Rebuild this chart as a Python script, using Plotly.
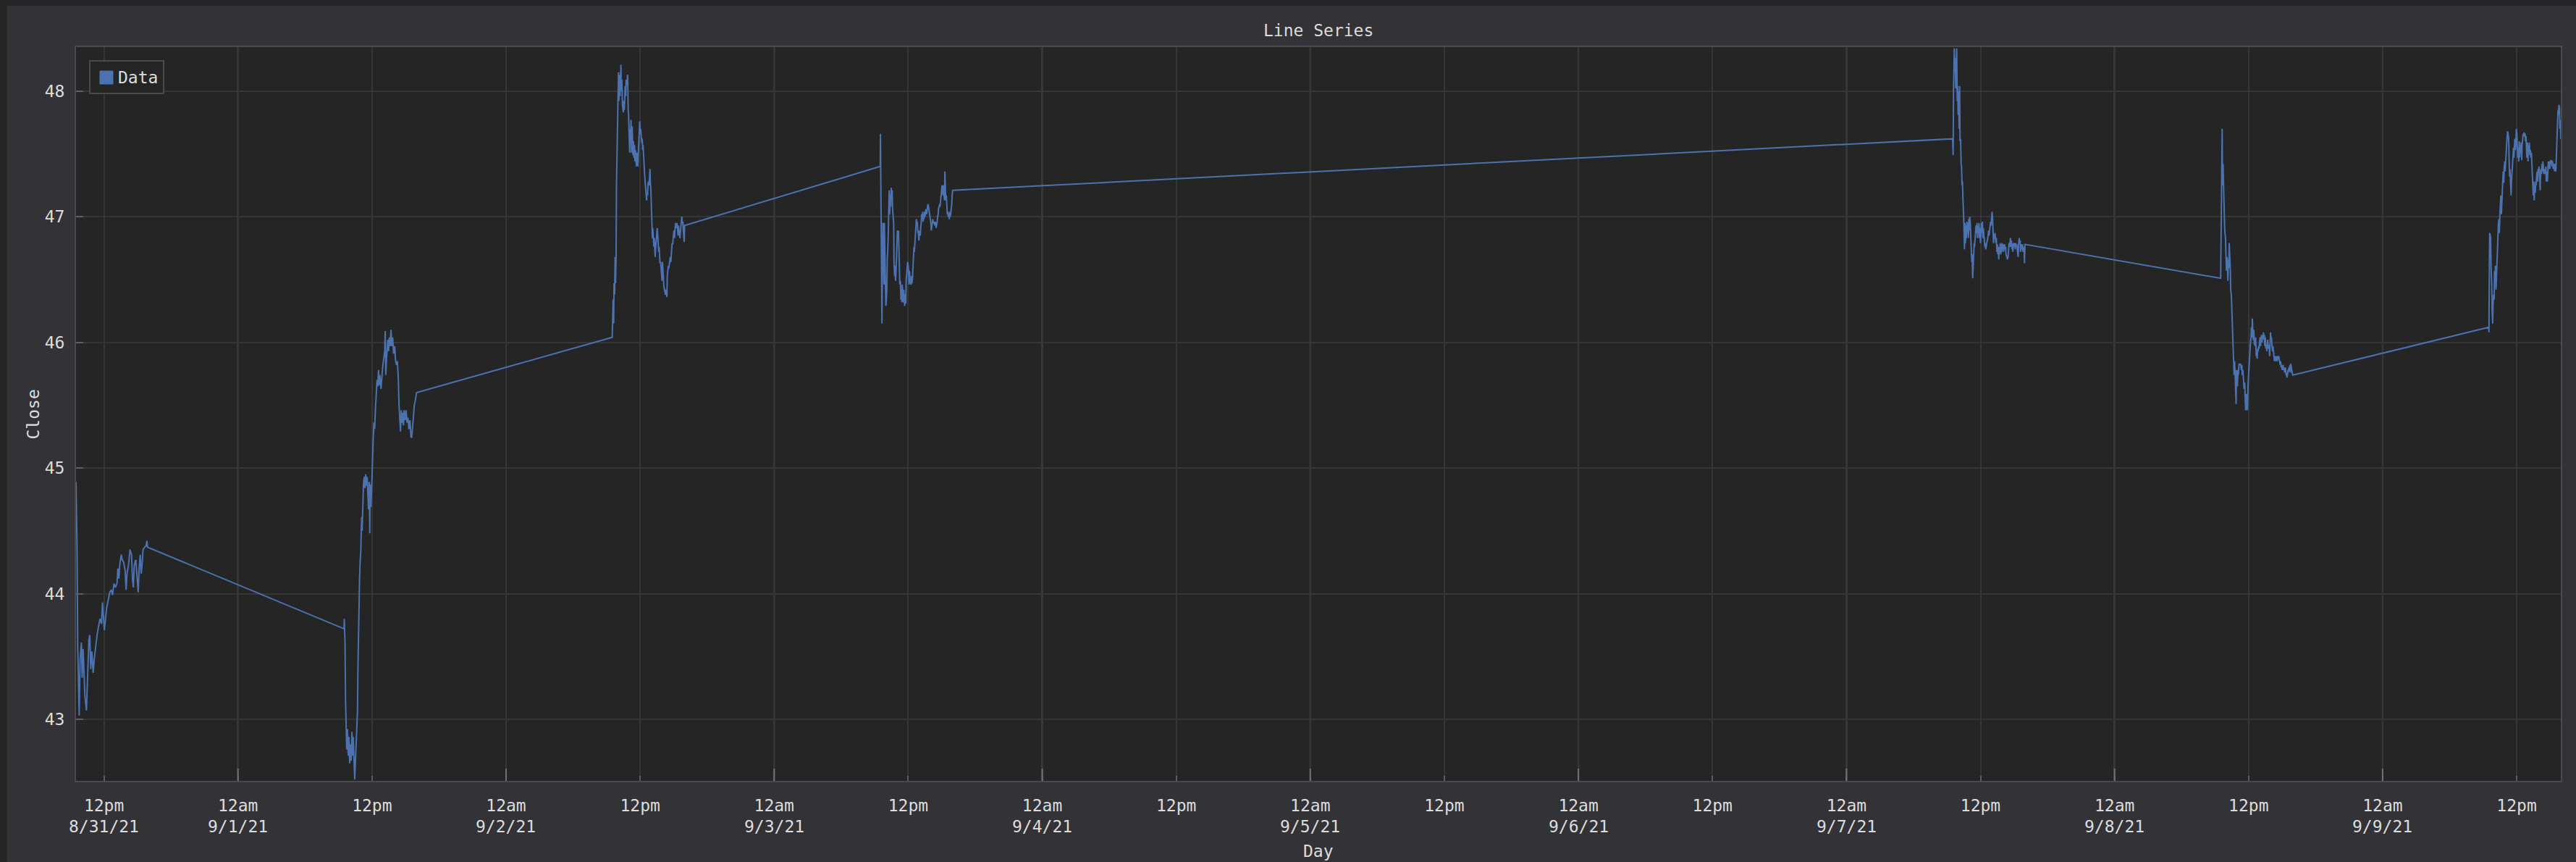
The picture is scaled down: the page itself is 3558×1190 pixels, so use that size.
import pandas as pd
import plotly.graph_objects as go

# ---------------- data ----------------
chart_title = "Line Series"
series_name = "Data"
x_title = "Day"
y_title = "Close"

session_dates = ["2021-08-31", "2021-09-01", "2021-09-02", "2021-09-03",
                 "2021-09-07", "2021-09-08", "2021-09-09"]
session_open = "09:30"

# minutes after the open, and close price
minutes_0831 = [0,4,6,9,14,17,22,29,33,38, 43,48,56,61,69,74,79,85,92,98,
                105,113,121,129,137,142,147,152,160,165, 173,181,189,196,204,212,220,225,230,235,
                243,248,256,264,269,274,282,290,298,303, 308,313,321,329,334,339,345,350,355,360,
                368,376,381,384]
close_0831 = [44.89,44.61,44.31,43.59,43.29,43.03,43.48,43.61,43.33,43.56,
              43.37,43.18,43.07,43.29,43.63,43.67,43.40,43.54,43.37,43.48,
              43.59,43.67,43.74,43.80,43.76,43.93,43.82,43.71,43.82,43.89,
              43.95,44.01,44.03,43.99,44.08,44.05,44.08,44.20,44.12,44.23,
              44.31,44.27,44.25,44.18,44.03,44.16,44.23,44.35,44.31,44.12,
              44.05,44.23,44.27,44.12,44.01,44.20,44.31,44.16,44.23,44.35,
              44.37,44.38,44.42,44.37]

minutes_0901 = [0,1,5,8,10,14,18,22,26,30, 34,38,42,46,49,53,57,61,65,69,
                72,74,77,79,83,86,90,92,95,97, 100,104,108,112,116,120,124,127,131,135,
                138,140,144,148,152,156,160,164,168,172, 177,181,185,189,192,198,203,208,213,218,
                221,224,228,231,235,239,243,247,252,256, 261,266,272,276,281,286,291,295,299,303,
                307,311,315,319,322,328,333,338,343,348, 354,359,363,367,372,377,382,389]
close_0901 = [43.72,43.80,43.61,43.14,42.90,42.76,42.92,42.71,42.86,42.65,
              42.80,42.67,42.90,42.71,42.86,42.61,42.52,42.67,42.80,42.92,
              43.07,43.37,43.67,44.01,44.12,44.25,44.35,44.50,44.61,44.50,
              44.74,44.87,44.93,44.84,44.95,44.86,44.93,44.80,44.67,44.89,
              44.48,44.87,44.69,44.84,45.08,45.21,45.36,45.31,45.46,45.55,
              45.70,45.65,45.78,45.66,45.74,45.63,45.74,45.82,45.87,45.93,
              46.09,45.74,45.87,45.97,46.02,45.93,46.04,45.97,46.10,45.97,
              46.04,45.91,45.97,45.86,45.82,45.85,45.72,45.50,45.36,45.29,
              45.46,45.36,45.44,45.34,45.46,45.38,45.46,45.36,45.40,45.31,
              45.38,45.25,45.24,45.34,45.40,45.50,45.53,45.60]

minutes_0902 = [0,3,5,8,10,13,16,18,21,23, 26,29,31,34,36,39,42,44,47,49,
                52,55,57,60,62,65,68,70,73,75, 78,81,83,86,88,91,94,96,99,101,
                104,107,109,112,114,117,120,122,125,127, 130,133,135,138,140,143,146,148,151,153,
                156,159,161,164,166,169,172,174,177,179, 182,185,187,190,192,195,198,200,203,205,
                208,211,213,216,218,221,224,226,229,231, 234,237,239,242,244,247,250,252,255,257,
                260,263,265,268,270,274,278,281,283,286, 289,291,294,296,299,302,304,307,309,312,
                315,317,320,322,325,328,330,333,335,338, 341,343,346,348,351,354,356,359,361,364,
                367,369,372,374,377,380,382,385,387,389]
close_0902 = [46.04,46.19,46.34,46.15,46.47,46.38,46.68,46.47,46.68,47.25,
              47.53,47.55,47.91,48.15,47.92,48.13,47.96,48.19,48.21,48.00,
              48.09,47.89,47.85,47.83,47.92,47.85,47.96,48.04,47.96,48.09,
              48.04,48.11,48.13,47.85,47.81,47.66,47.51,47.70,47.62,47.77,
              47.51,47.72,47.59,47.49,47.60,47.47,47.57,47.44,47.53,47.47,
              47.40,47.51,47.44,47.40,47.49,47.62,47.70,47.76,47.66,47.70,
              47.64,47.59,47.62,47.53,47.57,47.45,47.44,47.34,47.28,47.23,
              47.17,47.13,47.19,47.17,47.25,47.28,47.25,47.34,47.38,47.28,
              47.21,47.06,46.95,46.83,46.91,46.81,46.76,46.83,46.72,46.68,
              46.76,46.83,46.89,46.91,46.87,46.79,46.72,46.76,46.68,46.63,
              46.64,46.57,46.53,46.49,46.64,46.53,46.44,46.42,46.40,46.38,
              46.42,46.38,46.36,46.53,46.57,46.61,46.59,46.64,46.66,46.68,
              46.64,46.70,46.76,46.79,46.78,46.85,46.87,46.89,46.83,46.91,
              46.95,46.93,46.91,46.95,46.89,46.85,46.93,46.89,46.87,46.83,
              46.89,46.93,46.98,47.00,46.95,46.96,46.89,46.83,46.80,46.93]

minutes_0903 = [0,1,4,7,9,12,14,17,20,22, 25,27,30,33,35,38,40,43,46,48,
                51,53,56,59,61,64,66,69,72,74, 77,79,82,85,87,90,92,95,98,100,
                103,105,108,111,113,116,118,121,124,126, 129,131,134,137,139,142,144,147,150,152,
                155,157,160,163,165,168,170,173,176,178, 181,183,186,189,191,194,196,199,202,204,
                207,209,212,215,217,220,222,225,228,230, 233,235,238,241,243,246,248,251,254,256,
                259,261,264,267,269,272,274,277,280,282, 285,287,290,293,295,298,300,303,306,308,
                311,313,316,319,321,324,326,329,332,334, 337,339,342,345,347,350,352,355,358,360,
                363,365,368,371,373,376,378,381,384,386, 389]
close_0903 = [47.40,47.66,46.91,46.27,46.15,46.68,46.95,46.87,46.46,46.95,
              46.61,46.42,46.29,46.34,46.42,46.68,46.72,46.87,47.06,47.21,
              47.02,47.17,47.08,47.23,47.13,47.21,47.06,46.98,46.95,46.64,
              46.53,46.61,46.49,46.57,46.72,46.79,46.89,46.83,46.89,46.76,
              46.61,46.46,46.49,46.34,46.42,46.32,46.46,46.38,46.32,46.42,
              46.32,46.29,46.38,46.31,46.49,46.57,46.61,46.64,46.61,46.49,
              46.46,46.57,46.47,46.51,46.46,46.53,46.47,46.51,46.61,46.64,
              46.76,46.72,46.79,46.83,46.91,46.98,46.95,46.96,46.87,46.89,
              46.81,46.83,46.89,46.85,46.91,46.95,47.02,46.98,47.04,46.96,
              47.02,46.98,47.04,47.00,47.04,47.06,47.02,47.04,47.08,47.10,
              47.08,47.06,47.02,47.00,46.96,46.95,46.89,46.93,46.96,46.98,
              46.95,46.96,46.95,46.93,46.96,46.95,46.91,46.93,46.96,47.00,
              47.02,47.06,47.08,47.10,47.08,47.13,47.17,47.21,47.25,47.21,
              47.17,47.25,47.17,47.13,47.36,47.25,47.13,47.17,47.10,47.02,
              47.04,47.00,47.02,46.98,47.04,47.00,47.02,47.06,47.10,47.17,
              47.21]

minutes_0907 = [0,3,5,9,12,14,17,20,22,25, 27,30,33,35,38,40,43,46,48,51,
                53,56,59,61,64,66,69,72,74,77, 79,82,85,87,90,92,95,98,100,103,
                105,108,111,113,116,118,121,124,126,129, 131,134,137,139,142,144,147,150,152,155,
                157,160,163,165,168,170,173,176,178,181, 183,186,189,191,194,196,199,202,204,207,
                209,212,215,217,220,222,225,228,230,233, 235,238,241,243,246,248,251,254,256,259,
                261,264,267,269,272,274,277,280,282,285, 287,290,293,295,298,300,303,306,308,311,
                313,316,319,321,324,326,329,332,334,337, 339,342,345,347,350,352,355,358,360,363,
                365,368,371,373,376,378,381,383,385,386, 387,389]
close_0907 = [47.62,47.49,48.00,48.34,48.15,48.26,48.02,48.19,48.34,47.92,
              48.04,47.81,48.00,47.70,48.04,47.60,47.62,47.42,47.40,47.25,
              47.28,47.13,47.04,46.93,46.74,46.95,46.79,46.93,46.83,46.96,
              46.87,46.95,46.83,46.98,46.89,47.00,46.95,46.79,46.76,46.64,
              46.70,46.51,46.61,46.72,46.79,46.76,46.83,46.89,46.93,46.87,
              46.95,46.83,46.93,46.89,46.95,46.83,46.91,46.79,46.89,46.95,
              46.87,46.96,46.83,46.91,46.85,46.83,46.76,46.79,46.74,46.78,
              46.79,46.81,46.83,46.87,46.89,46.85,46.91,46.95,46.96,46.93,
              46.98,47.04,46.98,46.87,46.79,46.85,46.83,46.87,46.81,46.79,
              46.83,46.72,46.78,46.70,46.76,46.66,46.76,46.72,46.79,46.70,
              46.78,46.72,46.79,46.74,46.78,46.72,46.76,46.78,46.74,46.76,
              46.70,46.68,46.66,46.66,46.68,46.72,46.79,46.76,46.81,46.83,
              46.76,46.81,46.74,46.78,46.72,46.79,46.76,46.79,46.78,46.74,
              46.79,46.76,46.78,46.76,46.72,46.68,46.79,46.83,46.79,46.81,
              46.72,46.78,46.76,46.74,46.78,46.72,46.76,46.74,46.72,46.63,
              46.76,46.78]

minutes_0908 = [0,3,5,8,10,13,15,18,21,23, 26,28,31,34,36,39,41,44,46,49,
                52,54,57,59,62,65,67,70,72,75, 77,80,83,85,88,90,93,95,98,101,
                103,106,108,111,114,116,119,121,124,126, 129,132,134,137,139,142,144,147,150,152,
                155,157,160,163,165,168,170,173,175,178, 181,183,186,188,191,194,196,199,201,204,
                206,209,212,214,217,219,222,224,227,230, 232,235,237,240,243,245,248,250,253,255,
                258,261,263,266,268,271,273,276,279,281, 284,286,289,292,294,297,299,302,304,307,
                310,312,315,317,320,322,325,328,330,333, 335,338,341,343,346,348,351,353,356,359,
                361,364,366,369,372,374,377,379,382,384, 387,389]
close_0908 = [46.51,47.17,47.47,47.70,47.25,47.42,47.28,47.02,46.93,46.87,
              46.83,46.72,46.57,46.68,46.61,46.49,46.66,46.59,46.79,46.70,
              46.57,46.42,46.38,46.31,46.15,46.00,45.89,45.82,45.74,45.85,
              45.78,45.63,45.51,45.78,45.74,45.65,45.78,45.74,45.82,45.83,
              45.82,45.83,45.82,45.78,45.82,45.74,45.78,45.72,45.70,45.63,
              45.68,45.57,45.46,45.48,45.59,45.46,45.48,45.66,45.74,45.82,
              45.89,45.97,46.00,46.04,46.12,46.04,46.19,46.08,46.02,46.10,
              45.98,46.00,45.97,46.04,45.89,45.93,45.87,45.95,45.93,45.97,
              45.95,46.00,46.04,45.97,46.02,46.06,46.00,46.06,46.02,46.08,
              46.04,46.06,45.97,46.04,45.95,45.98,45.93,46.00,46.02,45.95,
              45.98,45.97,45.89,46.00,46.08,46.02,46.04,45.97,45.93,45.97,
              45.91,45.87,45.85,45.89,45.87,45.85,45.89,45.87,45.85,45.89,
              45.87,45.89,45.85,45.83,45.82,45.85,45.80,45.82,45.78,45.80,
              45.82,45.78,45.80,45.76,45.78,45.80,45.74,45.76,45.72,45.74,
              45.78,45.76,45.80,45.78,45.82,45.76,45.83,45.80,45.78,45.76,
              45.74,45.74]

minutes_0909 = [0,1,3,5,8,10,13,16,18,21, 23,26,29,31,34,36,39,42,44,47,
                49,52,55,57,60,62,65,68,70,73, 75,78,81,83,86,88,91,94,96,99,
                101,104,107,109,112,114,117,120,122,125, 127,130,133,135,138,140,143,146,148,151,
                153,156,159,161,164,166,169,172,174,177, 179,182,185,187,190,192,195,198,200,203,
                205,208,211,213,216,218,221,224,226,229, 231,234,237,239,242,244,247,250,252,255,
                257,260,263,265,268,270,273,276,278,281, 283,286,289,291,294,296,299,302,304,307,
                309,312,315,317,320,322,325,328,330,333, 335,338,341,343,346,348,351,354,356,359,
                361,364,367,369,372,374,377,380,382,385, 387]
close_0909 = [46.12,46.08,46.55,46.87,46.85,46.83,46.57,46.46,46.27,46.15,
              46.29,46.38,46.34,46.57,46.49,46.61,46.42,46.57,46.61,46.79,
              46.87,46.95,46.98,46.87,47.02,47.10,47.17,47.02,47.13,47.25,
              47.28,47.36,47.27,47.40,47.44,47.36,47.47,47.51,47.57,47.64,
              47.68,47.66,47.62,47.47,47.32,47.38,47.25,47.17,47.28,47.36,
              47.44,47.51,47.55,47.47,47.57,47.62,47.53,47.59,47.70,47.66,
              47.57,47.47,47.55,47.44,47.60,47.47,47.57,47.51,47.59,47.45,
              47.57,47.62,47.66,47.64,47.67,47.64,47.66,47.60,47.64,47.53,
              47.47,47.59,47.44,47.57,47.51,47.59,47.49,47.53,47.47,47.51,
              47.44,47.30,47.25,47.17,47.28,47.13,47.25,47.19,47.28,47.25,
              47.32,47.36,47.28,47.38,47.34,47.40,47.34,47.21,47.32,47.38,
              47.34,47.42,47.36,47.44,47.38,47.34,47.38,47.36,47.34,47.40,
              47.28,47.36,47.28,47.34,47.44,47.38,47.44,47.38,47.42,47.45,
              47.44,47.45,47.40,47.44,47.38,47.42,47.40,47.36,47.42,47.36,
              47.38,47.51,47.62,47.77,47.85,47.81,47.89,47.87,47.70,47.77,
              47.62]

session_minutes = [minutes_0831, minutes_0901, minutes_0902, minutes_0903,
                   minutes_0907, minutes_0908, minutes_0909]
session_closes = [close_0831, close_0901, close_0902, close_0903,
                  close_0907, close_0908, close_0909]

y_tick_values = [43, 44, 45, 46, 47, 48]
y_range = [42.51, 48.35]
x_tick_first = "2021-08-31 12:00"
x_tick_last = "2021-09-09 12:00"

# ---------------- build series ----------------
times, closes = [], []
for day, mins, vals in zip(session_dates, session_minutes, session_closes):
    assert len(mins) == len(vals), (day, len(mins), len(vals))
    open_ts = pd.Timestamp(f"{day} {session_open}")
    times += [open_ts + pd.Timedelta(minutes=m) for m in mins]
    closes += vals

tick_times = list(pd.date_range(x_tick_first, x_tick_last, freq="12h"))
tick_text = ["12am" if t.hour == 0 else "12pm" for t in tick_times]
midnights = [t for t in tick_times if t.hour == 0]
date_label_times = [tick_times[0]] + midnights


def short_date(t):
    return f"{t.month}/{t.day}/{t.year % 100}"


# ---------------- style ----------------
W, H = 3558, 1190
ML, MR, MT, MB = 105, 21, 65, 112
PW, PH = W - ML - MR, H - MT - MB
FONT = "DejaVu Sans Mono"
FS = 23
TXT = "#dcdcdc"
PAPER = "#333337"
PLOTBG = "#252525"
OUTER = "#262627"
GRID = "#363636"
MAJOR = "#5a5a5a"
BORDER = "#4a4a4a"
LINE = "#4c72b0"


def px_x(p):
    return (p - ML) / PW


def px_y(p):
    return (H - MB - p) / PH


fig = go.Figure()
fig.add_trace(go.Scatter(x=times, y=closes, mode="lines", name=series_name,
                         line=dict(color=LINE, width=2), showlegend=False))

shapes = []
# window frame strips (top and left)
shapes.append(dict(type="rect", xref="paper", yref="paper", x0=px_x(0), x1=px_x(W),
                   y0=px_y(8), y1=px_y(0), fillcolor=OUTER, line=dict(width=0), layer="below"))
shapes.append(dict(type="rect", xref="paper", yref="paper", x0=px_x(0), x1=px_x(10),
                   y0=px_y(H), y1=px_y(0), fillcolor=OUTER, line=dict(width=0), layer="below"))
# brighter day-boundary grid lines and their longer ticks
for t in midnights:
    shapes.append(dict(type="line", xref="x", yref="paper", x0=t, x1=t, y0=0, y1=1,
                       line=dict(color=MAJOR, width=2), layer="between"))
    shapes.append(dict(type="line", xref="x", yref="paper", x0=t, x1=t, y0=0, y1=17 / PH,
                       line=dict(color="#707070", width=2), layer="above"))
# legend box
shapes.append(dict(type="rect", xref="paper", yref="paper", x0=px_x(124), x1=px_x(226),
                   y0=px_y(129), y1=px_y(84), fillcolor=PLOTBG,
                   line=dict(color=BORDER, width=2), layer="above"))
shapes.append(dict(type="rect", xref="paper", yref="paper", x0=px_x(138), x1=px_x(156),
                   y0=px_y(116), y1=px_y(98), fillcolor=LINE,
                   line=dict(color=LINE, width=1), layer="above"))

annotations = [
    dict(text=chart_title, x=0.5, y=px_y(42), xref="paper", yref="paper",
         showarrow=False, xanchor="center", yanchor="middle", font=dict(size=FS, color=TXT)),
    dict(text=x_title, x=0.5, y=px_y(1175), xref="paper", yref="paper",
         showarrow=False, xanchor="center", yanchor="middle", font=dict(size=FS, color=TXT)),
    dict(text=y_title, x=px_x(45), y=0.5, xref="paper", yref="paper", textangle=-90,
         showarrow=False, xanchor="center", yanchor="middle", font=dict(size=FS, color=TXT)),
    dict(text=series_name, x=px_x(161), y=px_y(107), xref="paper", yref="paper",
         showarrow=False, xanchor="left", yanchor="middle", font=dict(size=FS, color=TXT)),
]
for t in date_label_times:
    annotations.append(dict(text=short_date(t), x=t, y=px_y(1141), xref="x", yref="paper",
                            showarrow=False, xanchor="center", yanchor="middle",
                            font=dict(size=FS, color=TXT)))

fig.update_layout(
    width=W, height=H,
    margin=dict(l=ML, r=MR, t=MT, b=MB, pad=0),
    paper_bgcolor=PAPER, plot_bgcolor=PLOTBG,
    font=dict(family=FONT, size=FS, color=TXT),
    shapes=shapes, annotations=annotations,
    showlegend=False,
)
fig.update_xaxes(
    type="date", range=[times[0], times[-1]],
    tickmode="array", tickvals=tick_times, ticktext=tick_text,
    ticks="inside", ticklen=7, tickwidth=2, tickcolor="#5e5e5e",
    showgrid=True, gridcolor=GRID, gridwidth=1.5,
    showline=True, linecolor=BORDER, linewidth=2, mirror=True,
    zeroline=False, ticklabelstandoff=12,
)
fig.update_yaxes(
    range=y_range, tickmode="array", tickvals=y_tick_values,
    ticktext=[str(v) for v in y_tick_values],
    ticks="inside", ticklen=10, tickwidth=2, tickcolor="#5e5e5e",
    showgrid=True, gridcolor=GRID, gridwidth=1.5,
    showline=True, linecolor=BORDER, linewidth=2, mirror=True,
    zeroline=False, ticklabelstandoff=9,
)

fig.write_html(
    "out.html",
    config={"displayModeBar": False},
    post_script="document.body.style.margin='0';document.body.style.padding='0';"
                "document.body.style.overflow='hidden';"
                "document.documentElement.style.background='" + PAPER + "';",
)
